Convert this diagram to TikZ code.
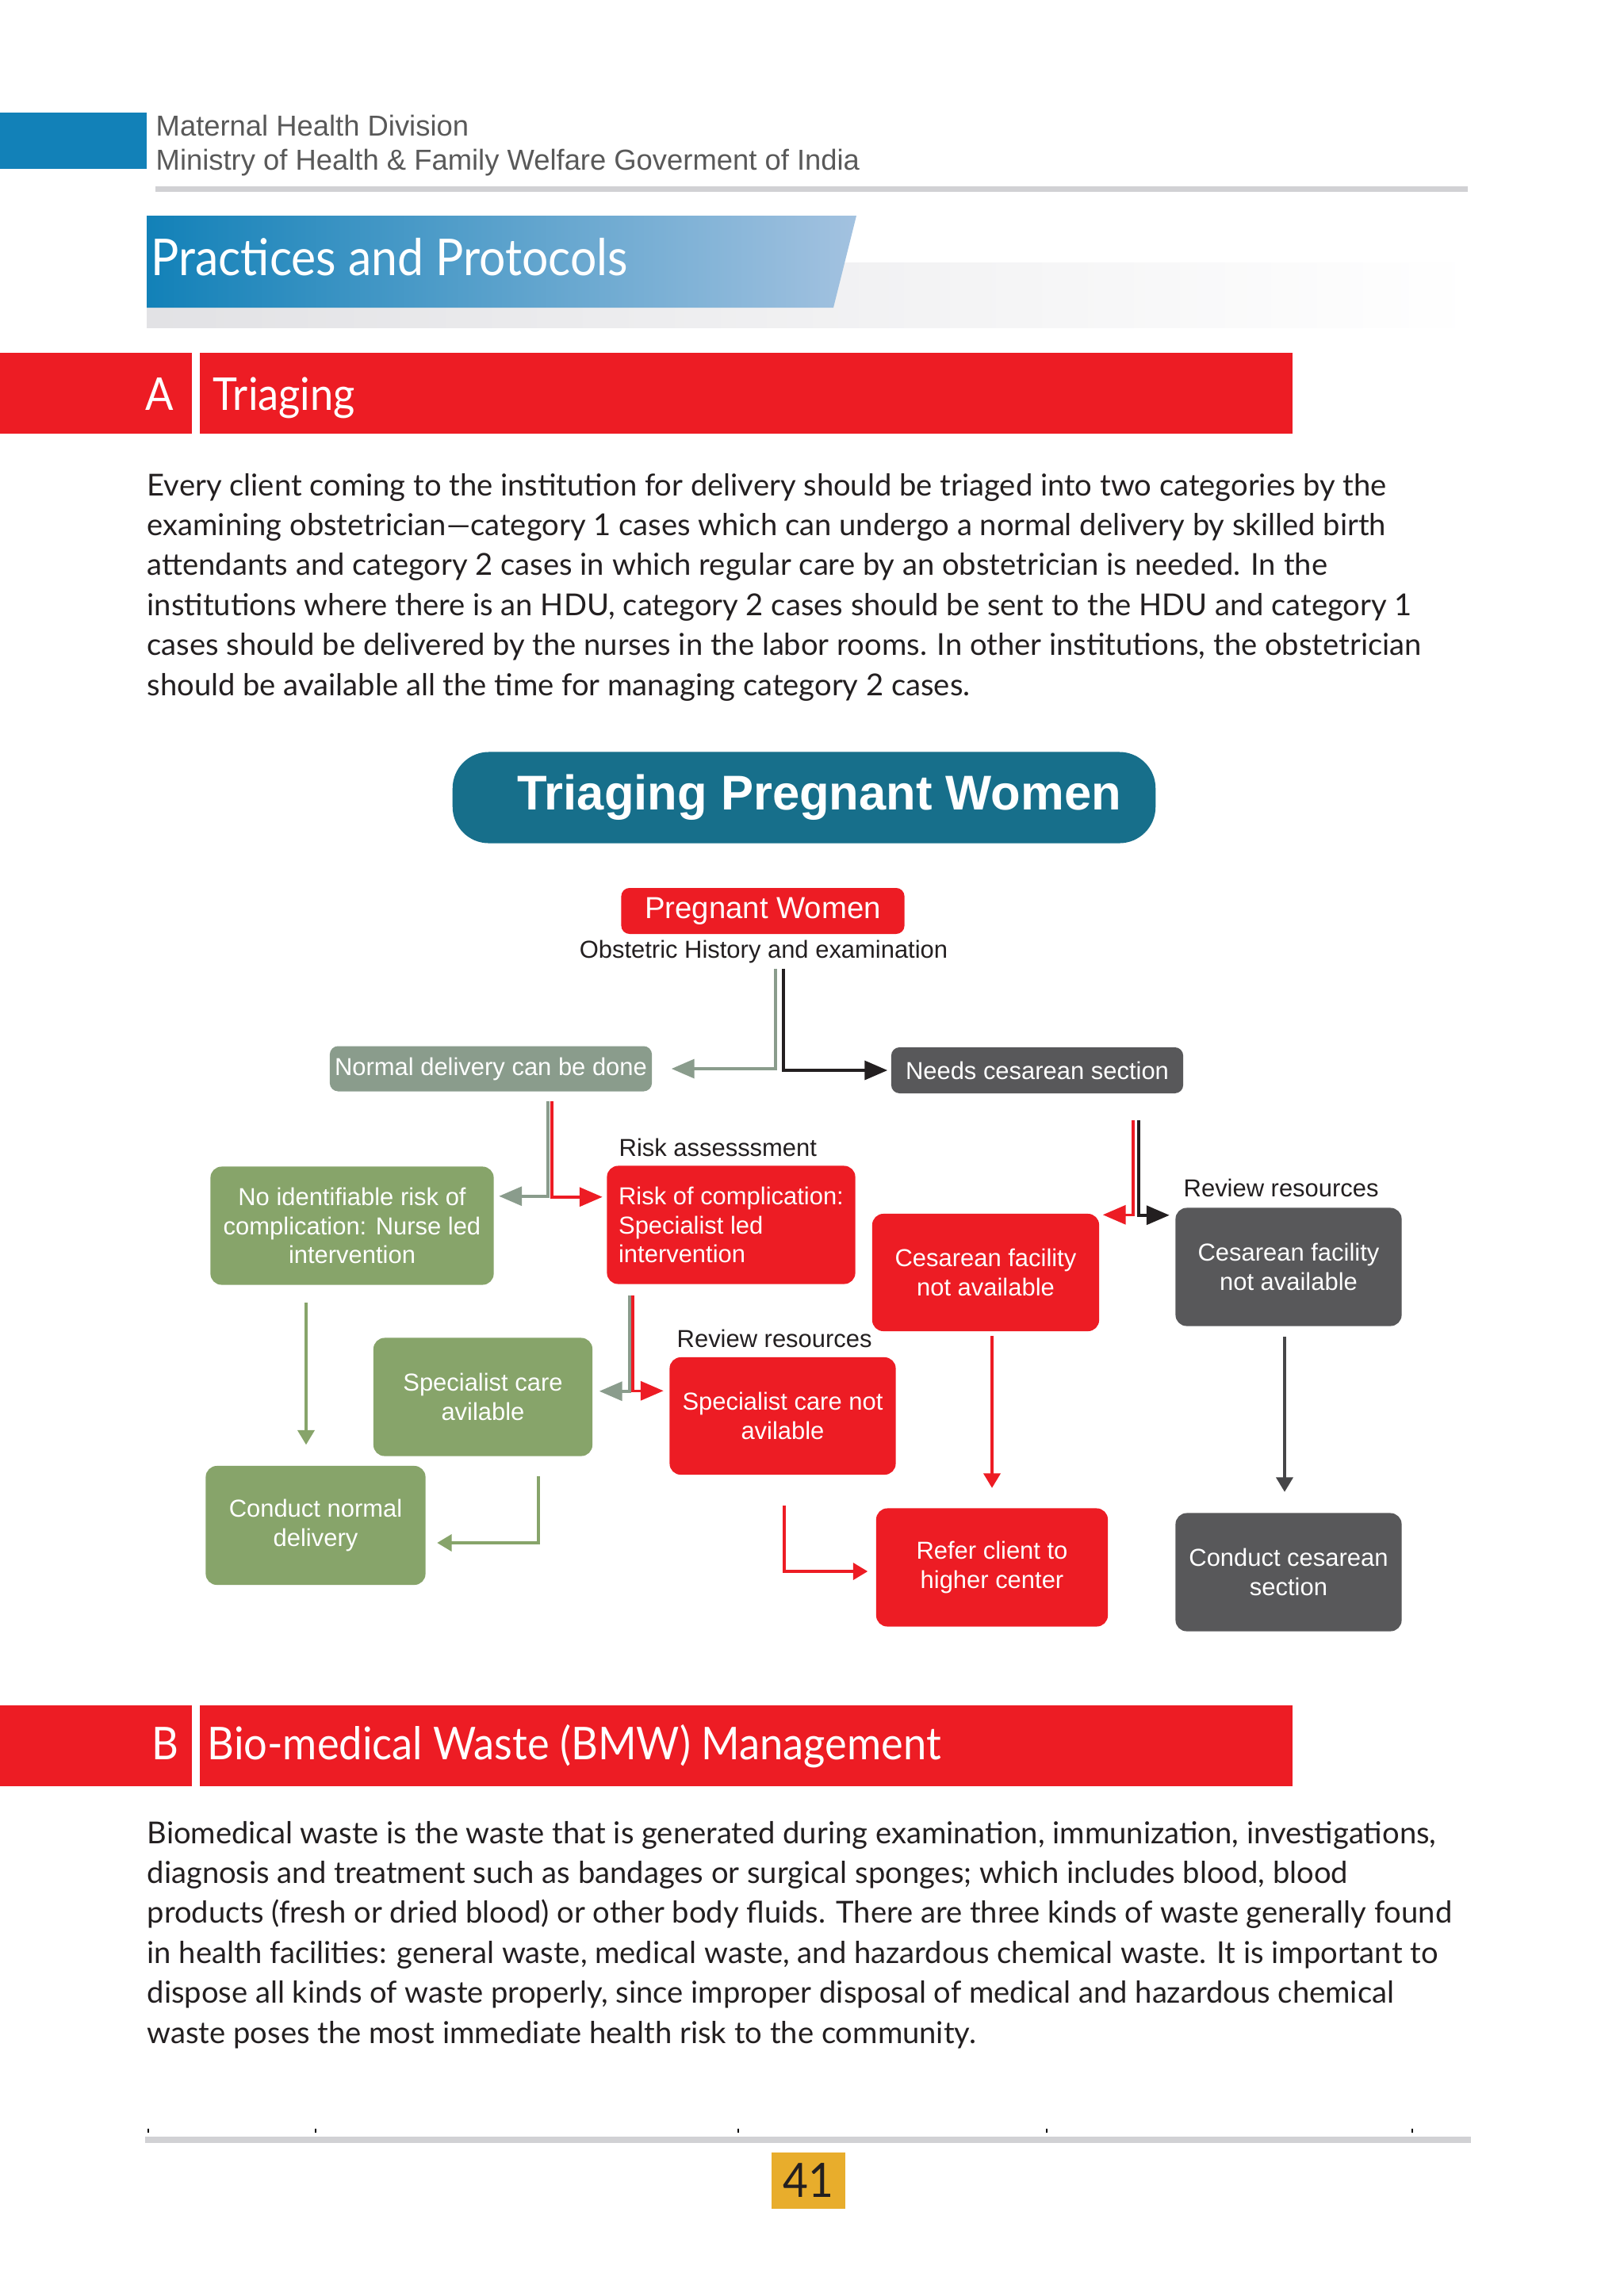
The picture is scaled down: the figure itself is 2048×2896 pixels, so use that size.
\documentclass[tikz,border=0pt]{standalone}
\usepackage{fontspec}
\setmainfont{Liberation Sans}
\newfontfamily\condfont{Lato}[FakeStretch=0.92]
\newfontfamily\bodyfont{Lato}[Ligatures=TeX]
\usetikzlibrary{positioning, arrows.meta, calc, shapes.misc}
\definecolor{hdrBlue}{HTML}{1281B8}
\definecolor{hdrLight}{HTML}{A3C2E0}
\definecolor{ruleGray}{HTML}{D1D1D4}
\definecolor{bandGray}{HTML}{E2E2E5}
\definecolor{triRed}{HTML}{ED1C24}
\definecolor{triTeal}{HTML}{176F8B}
\definecolor{triGreen}{HTML}{87A46A}
\definecolor{triSage}{HTML}{8A9C8C}
\definecolor{triDark}{HTML}{58585A}
\definecolor{triInk}{HTML}{231F20}
\definecolor{pageGold}{HTML}{E8AD2C}
\tikzset{
  every node/.style={font=\fontsize{8.8}{10.4}\selectfont},
  arrFork/.style={line width=1pt, -{Triangle[length=8.2pt,width=6.8pt]}},
  arrThin/.style={line width=0.9pt, -{Triangle[length=5.2pt,width=6pt]}},
  flowbox/.style={rounded corners=4pt, text=white, align=center, inner sep=0pt},
  boxRed/.style={flowbox, fill=triRed},
  boxGreen/.style={flowbox, fill=triGreen},
  boxSage/.style={flowbox, fill=triSage},
  boxDark/.style={flowbox, fill=triDark},
  lbl/.style={anchor=west, inner sep=0pt, text=triInk},
  bodytxt/.style={anchor=base west, inner sep=0pt, text=triInk,
    font=\bodyfont\fontsize{10.85}{14.4}\selectfont},
  sechead/.style={anchor=base west, inner sep=0pt, text=white,
    font=\condfont\fontsize{16.2}{19}\selectfont},
}

\begin{document}
\begin{tikzpicture}[x=0.01cm, y=-0.01cm]
  \useasboundingbox (0,0) rectangle (2048,2896);
  \fill[white] (0,0) rectangle (2048,2896);

  % page header
  \fill[hdrBlue] (0,142) rectangle (185,213);
  \node[anchor=base west, inner sep=0pt, text=black!65, font=\fontsize{10.35}{12}\selectfont]
    (div) at (196,171) {Maternal Health Division};
  \node[anchor=base west, inner sep=0pt, text=black!65, font=\fontsize{10.35}{12}\selectfont]
    (min) at (196,214) {Ministry of Health \& Family Welfare Goverment of India};
  \fill[ruleGray] (196,235) rectangle (1851,242);
  \shade[left color=bandGray, right color=white] (185,331) rectangle (1863,413);
  \shade[left color=hdrBlue, right color=hdrLight] (185,272) -- (1080,272) -- (1051,388) -- (185,388) -- cycle;
  \node[anchor=base west, inner sep=0pt, text=white, font=\condfont\fontsize{18.2}{21}\selectfont]
    (pp) at (190,347) {Practices and Protocols};

  % section A
  \fill[triRed] (0,445) rectangle (242,547);
  \fill[triRed] (252,445) rectangle (1630,547);
  \node[sechead, anchor=base] (secA) at (201,517) {A};
  \node[sechead] (secAt) at (268,517) {Triaging};
  \foreach \txt [count=\i from 0] in {
    {Every client coming to the institution for delivery should be triaged into two categories by the},
    {examining obstetrician—category 1 cases which can undergo a normal delivery by skilled birth},
    {attendants and category 2 cases in which regular care by an obstetrician is needed. In the},
    {institutions where there is an HDU, category 2 cases should be sent to the HDU and category 1},
    {cases should be delivered by the nurses in the labor rooms. In other institutions, the obstetrician},
    {should be available all the time for managing category 2 cases.}}
    \node[bodytxt] (pa\i) at (185,625+\i*50.4) {\txt};

  % flow chart
  \node[fill=triTeal, rounded corners=13pt, minimum width=8.86cm, minimum height=1.15cm,
    text=white, font=\bfseries\fontsize{17.5}{20}\selectfont] (title) at (1014,1006)
    {\hspace*{11pt}Triaging Pregnant Women};
  \node[boxRed, minimum width=3.57cm, minimum height=0.58cm, rounded corners=3pt,
    font=\fontsize{10.9}{12}\selectfont] (pregnant) at (962,1149) {Pregnant Women};
  \node[inner sep=0pt, text=triInk] (obst) at (963,1200) {Obstetric History and examination};
  \node[boxSage, minimum width=4.06cm, minimum height=0.57cm, rounded corners=3pt] (normal) at (619,1348) {Normal delivery can be done};
  \node[boxDark, minimum width=3.68cm, minimum height=0.58cm, rounded corners=3pt] (needs) at (1308,1350) {Needs cesarean section};

  \node[boxGreen, minimum width=3.57cm, minimum height=1.49cm] (noRisk) at (444,1546)
    {No identifiable risk of\\complication: Nurse led\\intervention};
  \node[boxRed, minimum width=3.13cm, minimum height=1.49cm, align=left] (riskComp) at (922,1545)
    {Risk of complication:\\Specialist led\\intervention};
  \node[lbl] (lblRisk) at (780,1447) {Risk assesssment};
  \node[boxRed, minimum width=2.86cm, minimum height=1.48cm] (cesNotR) at (1243,1605)
    {Cesarean facility\\not available};
  \node[lbl] (lblRev2) at (1492,1498) {Review resources};
  \node[boxDark, minimum width=2.85cm, minimum height=1.49cm] (cesNotD) at (1625,1598)
    {Cesarean facility\\not available};

  \node[boxGreen, minimum width=2.76cm, minimum height=1.49cm] (spcAvail) at (609,1762)
    {Specialist care\\avilable};
  \node[lbl] (lblRev1) at (853,1688) {Review resources};
  \node[boxRed, minimum width=2.85cm, minimum height=1.48cm] (spcNot) at (987,1786)
    {Specialist care not\\avilable};
  \node[boxGreen, minimum width=2.77cm, minimum height=1.50cm] (normDeliv) at (398,1924)
    {Conduct normal\\delivery};
  \node[boxRed, minimum width=2.92cm, minimum height=1.49cm] (refer) at (1251,1977)
    {Refer client to\\higher center};
  \node[boxDark, minimum width=2.85cm, minimum height=1.49cm] (cesSec) at (1625,1983)
    {Conduct cesarean\\section};

  % connectors
  \draw[arrFork, triSage] ($(obst.south)+(15,7)$) |- ($(normal.east)+(24,0)$);
  \draw[arrFork, triInk] ($(obst.south)+(25,7)$) |- ($(needs.west)+(-4,0)$);
  \draw[arrFork, triSage] ($(normal.south)+(72,12)$) |- ($(noRisk.north east)+(6,38)$);
  \draw[arrFork, triRed] ($(normal.south)+(77,12)$) |- ($(riskComp.north west)+(-5,40)$);
  \draw[arrFork, triSage] ($(riskComp.south)+(-128,14)$) |- ($(spcAvail.north east)+(8,68)$);
  \draw[arrFork, triRed] ($(riskComp.south)+(-124,14)$) |- ($(spcNot.north west)+(-7,43)$);
  \draw[arrFork, triRed] ($(needs.south)+(121,33)$) |- ($(cesNotR.north east)+(4,2)$);
  \draw[arrFork, triInk] ($(needs.south)+(128,33)$) |- ($(cesNotD.north west)+(-7,10)$);
  \draw[arrThin, triGreen] ($(noRisk.south)+(-58,22)$) -- ($(normDeliv.north)+(-12,-26)$);
  \draw[arrThin, triGreen] ($(spcAvail.south)+(70,25)$) |- ($(normDeliv.east)+(14,22)$);
  \draw[arrThin, triRed] ($(spcNot.south)+(2,38)$) |- ($(refer.west)+(-10,5)$);
  \draw[arrThin, triRed] ($(cesNotR.south)+(8,5)$) -- ($(refer.north)+(0,-25)$);
  \draw[arrThin, triDark!80!black] ($(cesNotD.south)+(-5,13)$) -- ($(cesSec.north)+(-5,-26)$);

  % section B
  \fill[triRed] (0,2151) rectangle (242,2253);
  \fill[triRed] (252,2151) rectangle (1630,2253);
  \node[sechead, anchor=base] (secB) at (208,2219) {B};
  \node[sechead] (secBt) at (261,2219) {Bio-medical Waste (BMW) Management};
  \foreach \txt [count=\i from 0] in {
    {Biomedical waste is the waste that is generated during examination, immunization, investigations,},
    {diagnosis and treatment such as bandages or surgical sponges; which includes blood, blood},
    {products (fresh or dried blood) or other body fluids. There are three kinds of waste generally found},
    {in health facilities: general waste, medical waste, and hazardous chemical waste. It is important to},
    {dispose all kinds of waste properly, since improper disposal of medical and hazardous chemical},
    {waste poses the most immediate health risk to the community.}}
    \node[bodytxt] (pb\i) at (185,2325+\i*50.4) {\txt};

  % footer
  \foreach \tx in {187,398,931,1320,1781}
    \draw[line width=0.5pt] (\tx,2685) -- (\tx,2690);
  \fill[ruleGray] (183,2695) rectangle (1855,2703);
  \fill[pageGold] (973,2715) rectangle (1066,2786);
  \node[inner sep=0pt, text=triInk, font=\condfont\fontsize{17}{20}\selectfont] (pgno) at (1019.5,2750) {41};
\end{tikzpicture}
\end{document}
